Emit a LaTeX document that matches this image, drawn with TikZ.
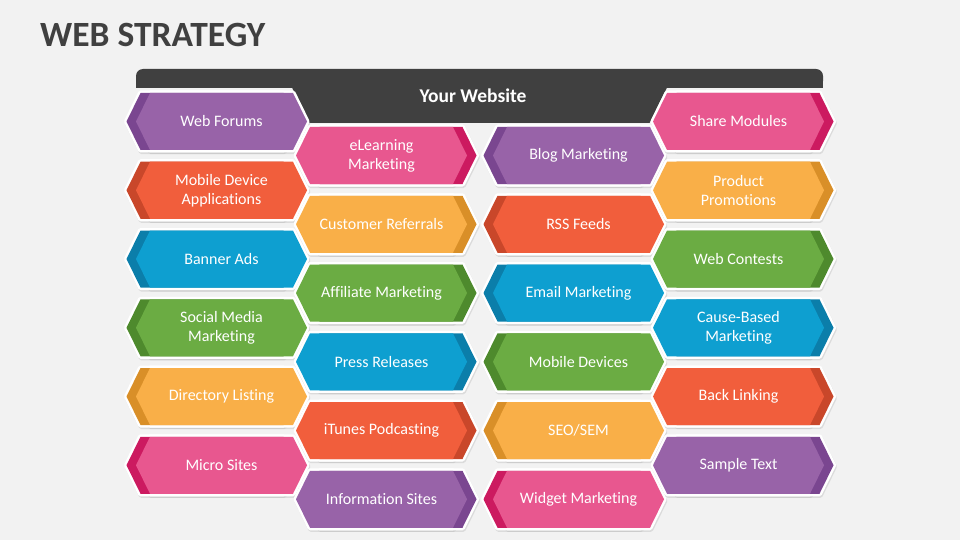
\documentclass[tikz,border=0pt]{standalone}
\usepackage{fontspec}
\setmainfont{Carlito}[Ligatures={NoCommon}]
\definecolor{bg}{HTML}{F2F2F2}
\definecolor{bannerc}{HTML}{404040}
\definecolor{titlec}{HTML}{404040}
\definecolor{cpurple}{HTML}{9863A8}
\definecolor{cpurpleD}{HTML}{7A4690}
\definecolor{cpink}{HTML}{E8578F}
\definecolor{cpinkD}{HTML}{CC1A60}
\definecolor{cred}{HTML}{F15E3C}
\definecolor{credD}{HTML}{C9472A}
\definecolor{corange}{HTML}{F9AF48}
\definecolor{corangeD}{HTML}{D98F28}
\definecolor{cblue}{HTML}{0E9FD0}
\definecolor{cblueD}{HTML}{0B7EAA}
\definecolor{cgreen}{HTML}{6BAC43}
\definecolor{cgreenD}{HTML}{4E8A2D}
\tikzset{
  celltext/.style={text=white, align=center, inner sep=0pt, font=\fontsize{16}{19}\selectfont},
  outl/.style={draw=white, line width=5pt, line join=round},
  shad/.style={draw=black!30, fill=black!30, line width=5pt, line join=round, opacity=0.35},
}
\newcommand{\hexcell}[7]{%
  \begin{scope}[shift={(#1,#2)}]
    \path[shad, xshift=0.8pt, yshift=-1.6pt] (-85.5,0) -- (-71.5,-28.5) -- (71.5,-28.5) -- (85.5,0) -- (71.5,28.5) -- (-71.5,28.5) -- cycle;
    \path[shad, xshift=#5pt, xshift=0.8pt, yshift=-1.6pt] (-85.5,0) -- (-71.5,-28.5) -- (71.5,-28.5) -- (85.5,0) -- (71.5,28.5) -- (-71.5,28.5) -- cycle;
    \path[outl] (-85.5,0) -- (-71.5,-28.5) -- (71.5,-28.5) -- (85.5,0) -- (71.5,28.5) -- (-71.5,28.5) -- cycle;
    \path[outl, xshift=#5pt] (-85.5,0) -- (-71.5,-28.5) -- (71.5,-28.5) -- (85.5,0) -- (71.5,28.5) -- (-71.5,28.5) -- cycle;
    \fill[#4, xshift=#5pt] (-85.5,0) -- (-71.5,-28.5) -- (71.5,-28.5) -- (85.5,0) -- (71.5,28.5) -- (-71.5,28.5) -- cycle;
    \fill[#3] (-85.5,0) -- (-71.5,-28.5) -- (71.5,-28.5) -- (85.5,0) -- (71.5,28.5) -- (-71.5,28.5) -- cycle;
    \node[celltext] (#6) at (0,0) {#7};
  \end{scope}}
\begin{document}
\begin{tikzpicture}[x=1pt, y=-1pt]
  \fill[bg] (0,0) rectangle (960,540);
  \useasboundingbox (0,0) rectangle (960,540);
  \node[anchor=base west, text=titlec, font=\fontsize{35.5}{40}\selectfont\bfseries, inner sep=0pt] (title) at (40,46.5) {WEB STRATEGY};
  % banner
  \fill[bannerc, rounded corners=7pt] (136,69) rectangle (823,88);
  \fill[bannerc] (136,78) rectangle (823,88);
  \fill[bannerc] (292,87.5) -- (667,87.5) -- (649.5,123) -- (309.5,123) -- cycle;
  \node[text=white, font=\fontsize{19.5}{22}\selectfont\bfseries, inner sep=0pt] (web) at (473,96) {Your Website};
  % column 1
  \hexcell{221.5}{121.5}{cpurple}{cpurpleD}{-9.5}{c11}{Web Forums}
  \hexcell{221.5}{190.25}{cred}{credD}{-9.5}{c12}{Mobile Device\\Applications}
  \hexcell{221.5}{259}{cblue}{cblueD}{-9.5}{c13}{Banner Ads}
  \hexcell{221.5}{327.75}{cgreen}{cgreenD}{-9.5}{c14}{Social Media\\Marketing}
  \hexcell{221.5}{396.5}{corange}{corangeD}{-9.5}{c15}{Directory Listing}
  \hexcell{221.5}{465.25}{cpink}{cpinkD}{-9.5}{c16}{Micro Sites}
  % column 2
  \hexcell{381.5}{155.5}{cpink}{cpinkD}{9.5}{c21}{eLearning\\Marketing}
  \hexcell{381.5}{224.25}{corange}{corangeD}{9.5}{c22}{Customer Referrals}
  \hexcell{381.5}{293}{cgreen}{cgreenD}{9.5}{c23}{Affiliate Marketing}
  \hexcell{381.5}{361.75}{cblue}{cblueD}{9.5}{c24}{Press Releases}
  \hexcell{381.5}{430.5}{cred}{credD}{9.5}{c25}{iTunes Podcasting}
  \hexcell{381.5}{499.25}{cpurple}{cpurpleD}{9.5}{c26}{Information Sites}
  % column 3
  \hexcell{578.5}{155.5}{cpurple}{cpurpleD}{-9.5}{c31}{Blog Marketing}
  \hexcell{578.5}{224.25}{cred}{credD}{-9.5}{c32}{RSS Feeds}
  \hexcell{578.5}{293}{cblue}{cblueD}{-9.5}{c33}{Email Marketing}
  \hexcell{578.5}{361.75}{cgreen}{cgreenD}{-9.5}{c34}{Mobile Devices}
  \hexcell{578.5}{430.5}{corange}{corangeD}{-9.5}{c35}{SEO/SEM}
  \hexcell{578.5}{499.25}{cpink}{cpinkD}{-9.5}{c36}{Widget Marketing}
  % column 4
  \hexcell{738.5}{121.5}{cpink}{cpinkD}{9.5}{c41}{Share Modules}
  \hexcell{738.5}{190.25}{corange}{corangeD}{9.5}{c42}{Product\\Promotions}
  \hexcell{738.5}{259}{cgreen}{cgreenD}{9.5}{c43}{Web Contests}
  \hexcell{738.5}{327.75}{cblue}{cblueD}{9.5}{c44}{Cause-Based\\Marketing}
  \hexcell{738.5}{396.5}{cred}{credD}{9.5}{c45}{Back Linking}
  \hexcell{738.5}{465.25}{cpurple}{cpurpleD}{9.5}{c46}{Sample Text}
\end{tikzpicture}
\end{document}
